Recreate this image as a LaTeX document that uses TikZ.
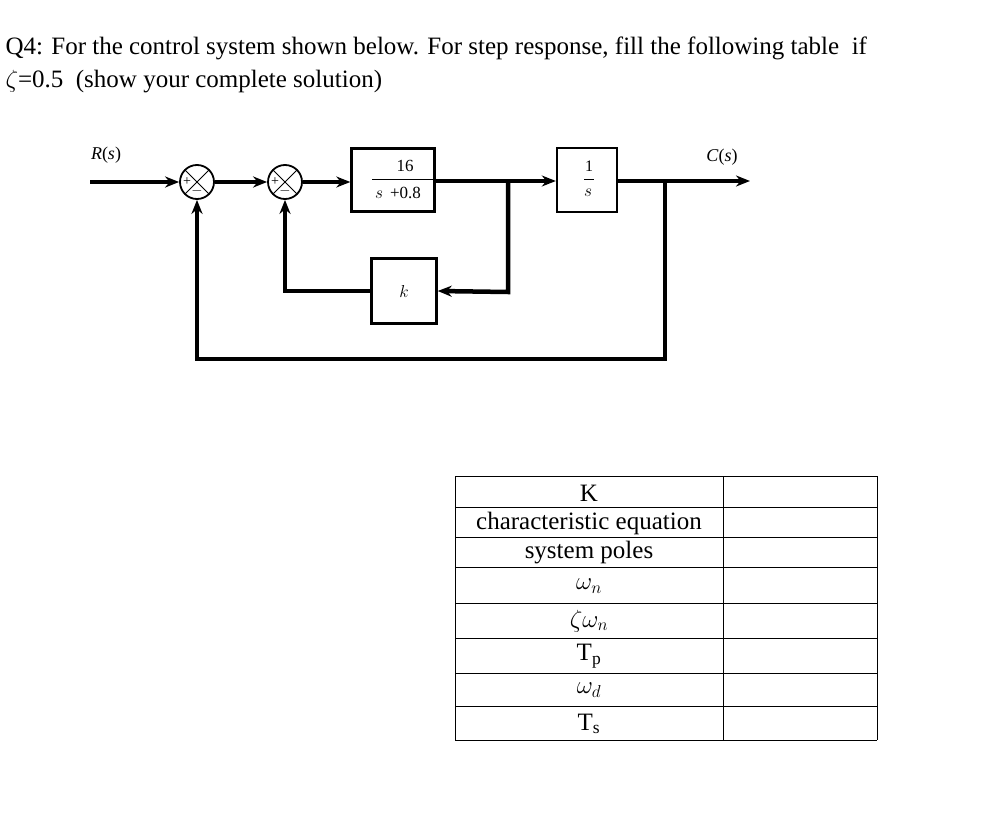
\documentclass[tikz,border=0pt]{standalone}
\usepackage{fontspec}
\setmainfont{Liberation Serif}
\usetikzlibrary{arrows.meta}
\begin{document}
\begin{tikzpicture}[x=1pt, y=-1pt,
        sum/.style={circle, draw, line width=1.8pt, minimum size=34pt, inner sep=0pt,
            path picture={\draw[line width=0.9pt] (path picture bounding box.north west) -- (path picture bounding box.south east)
                (path picture bounding box.south west) -- (path picture bounding box.north east);}},
        block/.style={rectangle, draw, line width=2.4pt, inner sep=0pt},
        sig/.style={line width=4.5pt},
        arr/.style={sig, -{Stealth[length=14pt, width=11pt]}},
        cell/.style={font=\fontsize{25}{25}\selectfont},
        sign/.style={font=\fontsize{14}{14}\selectfont, inner sep=0pt}
    ]
        \useasboundingbox (0,0) rectangle (985,824);
        % title
        \node[anchor=west, font=\fontsize{25}{28}\selectfont] (q1) at (2,48) {Q4: For the control system shown below. For step response, fill the following table\ \ if};
        \node[anchor=west, font=\fontsize{25}{28}\selectfont] (q2) at (2,82) {$\zeta$=0.5\ \ (show your complete solution)};

        % blocks
        \coordinate (in) at (90,182);
        \node[sum](s1) at (197,182){};
        \node[sum](s2) at (285,182){};
        \node[block, minimum width=83pt, minimum height=63pt](g) at (393,180){};
        \node[font=\fontsize{17}{17}\selectfont] (gn) at (405,166) {16};
        \draw[line width=0.8pt] (372,179) -- (438,179);
        \node[font=\fontsize{17}{17}\selectfont] (gd) at (398,193) {$s$\ \,+0.8};
        \node[block, minimum width=60pt, minimum height=64pt](h) at (587,180){};
        \node[font=\fontsize{16}{16}\selectfont] (hn) at (589,166) {1};
        \draw[line width=0.8pt] (584,179) -- (594,179);
        \node[font=\fontsize{16}{16}\selectfont] (hd) at (588,193) {$s$};
        \node[block, minimum width=65pt, minimum height=65pt](k) at (404,291){\fontsize{17}{17}\selectfont $k$};
        \coordinate (br) at (508,181);
        \coordinate (bo) at (665,181);
        \coordinate (out) at (750,181);

        % signs
        \node[sign] at ([xshift=-10pt]s1.center) {+};
        \node[sign] at ([yshift=-9pt]s1.center) {$-$};
        \node[sign] at ([xshift=-10pt]s2.center) {+};
        \node[sign] at ([yshift=-9pt]s2.center) {$-$};

        % labels
        \node[font=\fontsize{18}{18}\selectfont] (r) at (106,155) {\textit{R}(\textit{s})};
        \node[font=\fontsize{18}{18}\selectfont] (c) at (722,157) {\textit{C}(\textit{s})};

        % connectors
        \draw[arr] (in) -- (s1.west);
        \draw[arr] (s1.east) -- (s2.west);
        \draw[arr] (s2.east) -- (g.west |- s2.east);
        \draw[arr] (g.east |- br) -- (h.west |- br);
        \draw[arr] (h.east |- bo) -- (out);
        \draw[arr] (br) -- (508,292) -- (k.east);
        \draw[arr] (k.west) -- (285,291) -- (s2.south);
        \draw[arr] (bo) -- (665,359) -- (197,359) -- (s1.south);

        % table
        \foreach \y in {476,507,537,567,603,638,673,706,740}
            \draw[line width=0.9pt] (455,\y) -- (877,\y);
        \foreach \x in {455,723,877}
            \draw[line width=0.9pt] (\x,476) -- (\x,740);
        \foreach \t [count=\i] in {K, characteristic equation, system poles, $\omega_n$, $\zeta\omega_n$, T$_\mathrm{p}$, $\omega_d$, T$_\mathrm{s}$}
            \node[cell] (row\i) at (589,{(\i==1)*493 + (\i==2)*523 + (\i==3)*553 + (\i==4)*586 + (\i==5)*621 + (\i==6)*656 + (\i==7)*690 + (\i==8)*724}) {\t};
\end{tikzpicture}
\end{document}
